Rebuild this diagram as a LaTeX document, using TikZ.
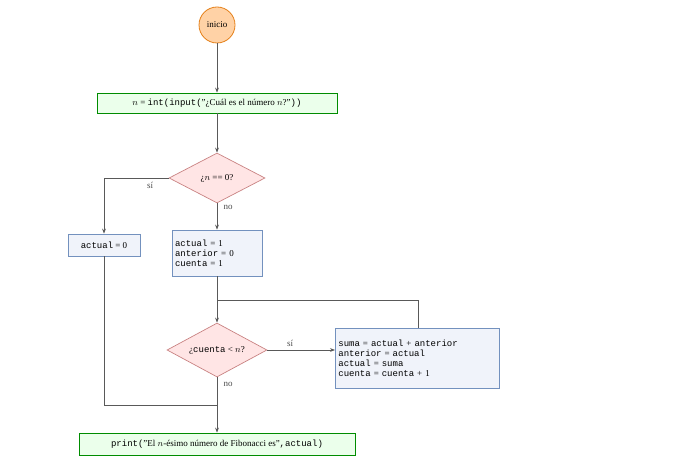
\documentclass[tikz,border=0pt]{standalone}
\usepackage{fontspec}
\setmainfont{Liberation Serif}
\setmonofont{Liberation Mono}
\usetikzlibrary{shapes.geometric,arrows.meta}
\definecolor{pb}{RGB}{115,145,190}
\definecolor{pf}{RGB}{240,243,250}
\begin{document}
\begin{tikzpicture}[x=1pt,y=-1pt,font=\fontsize{9}{10}\selectfont,
  proc/.style={draw=pb,fill=pf,line width=0.7pt,inner sep=3pt},
  dec/.style={diamond,draw=red!40!gray!70,fill=red!10,aspect=2,minimum width=96pt,minimum height=50pt,inner sep=0pt,line width=0.7pt},
  arr/.style={-{Stealth[length=5pt]},draw=gray!70!black,line width=0.7pt},
  ln/.style={draw=gray!70!black,line width=0.7pt},
  lab/.style={text=gray!60!black}]
\useasboundingbox (0,0) rectangle (700,470);
\node[circle,draw=orange!60!brown,fill=orange!35,minimum size=36pt,inner sep=0pt,line width=0.8pt] (ini) at (217,25) {inicio};
\node[draw=green!55!black,fill=green!8,line width=0.7pt,minimum width=240pt,minimum height=20pt,inner sep=2pt] (inp) at (217,103) {$n$ = \texttt{int(input(}"¿Cuál es el número $n$?"\texttt{))}};
\node[dec] (d1) at (217,178) {¿$n$ == 0?};
\node[proc,minimum width=72pt,minimum height=22pt] (a0) at (104,245) {\texttt{actual} = 0};
\node[proc,align=left,text width=84pt,minimum height=46pt] (init) at (217,253) {\texttt{actual} = 1\\\texttt{anterior} = 0\\\texttt{cuenta} = 1};
\node[dec,minimum width=100pt,minimum height=54pt] (d2) at (217,350) {¿\texttt{cuenta} < $n$?};
\node[proc,align=left,text width=158pt,minimum height=60pt,anchor=west] (body) at (335,358) {\texttt{suma} = \texttt{actual} + \texttt{anterior}\\\texttt{anterior} = \texttt{actual}\\\texttt{actual} = \texttt{suma}\\\texttt{cuenta} = \texttt{cuenta} + 1};
\node[draw=green!55!black,fill=green!8,line width=0.7pt,minimum width=276pt,minimum height=22pt,inner sep=2pt] (out) at (217,444) {\texttt{print(}"El $n$-ésimo número de Fibonacci es"\texttt{,actual)}};
\coordinate (j1) at (217,300);
\coordinate (j2) at (217,405);
\coordinate (bt) at (418,300);
\draw[arr] (ini) -- (inp);
\draw[arr] (inp) -- (d1);
\draw[arr] (d1.west) -| (a0.north);
\node[lab] at (150,185) {sí};
\draw[arr] (d1.south) -- (init.north);
\node[lab] at (228,207) {no};
\draw[ln] (init.south) -- (j1);
\draw[arr] (j1) -- (d2.north);
\draw[arr] (d2.east) -- (d2.east -| body.west);
\node[lab] at (290,343) {sí};
\draw[ln] (bt |- body.north) -- (bt) -- (j1);
\draw[arr] (d2.south) -- (out.north);
\node[lab] at (228,384) {no};
\draw[ln] (a0.south) |- (j2);
\end{tikzpicture}
\end{document}
